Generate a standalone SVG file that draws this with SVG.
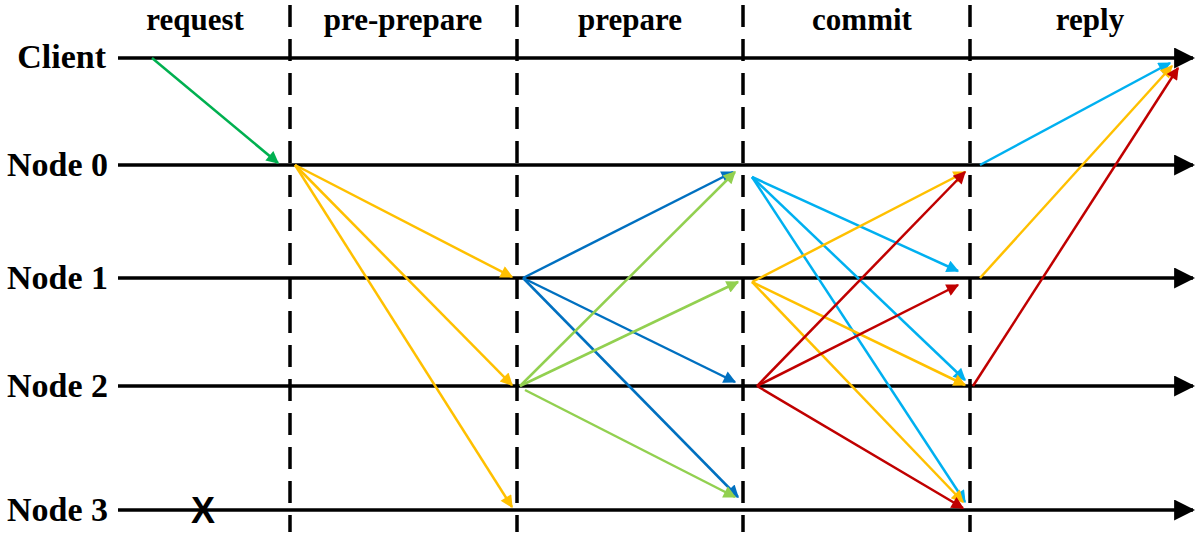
<svg xmlns="http://www.w3.org/2000/svg" width="1200" height="537" viewBox="0 0 1200 537">
<style>
.t{font-family:"Liberation Serif",serif;font-weight:bold;font-size:34px;fill:#000}
.h{font-size:31px}
.tl{stroke:#000;stroke-width:3.5;fill:none}
.d{stroke:#000;stroke-width:3.5;stroke-dasharray:22,12;fill:none}
.a{stroke-width:2.5;fill:none}
</style>
<defs>
<marker id="mk" viewBox="0 0 10 10" refX="9" refY="5" markerWidth="6" markerHeight="6" orient="auto"><path d="M0,0L10,5L0,10z" fill="#000"/></marker>
<marker id="mg" viewBox="0 0 10 10" refX="9" refY="5" markerWidth="6" markerHeight="5" orient="auto"><path d="M0,0L10,5L0,10z" fill="#00b050"/></marker>
<marker id="my" viewBox="0 0 10 10" refX="9" refY="5" markerWidth="6" markerHeight="5" orient="auto"><path d="M0,0L10,5L0,10z" fill="#ffc000"/></marker>
<marker id="mb" viewBox="0 0 10 10" refX="9" refY="5" markerWidth="6" markerHeight="5" orient="auto"><path d="M0,0L10,5L0,10z" fill="#0070c0"/></marker>
<marker id="ml" viewBox="0 0 10 10" refX="9" refY="5" markerWidth="6" markerHeight="5" orient="auto"><path d="M0,0L10,5L0,10z" fill="#92d050"/></marker>
<marker id="mc" viewBox="0 0 10 10" refX="9" refY="5" markerWidth="6" markerHeight="5" orient="auto"><path d="M0,0L10,5L0,10z" fill="#00b0f0"/></marker>
<marker id="mr" viewBox="0 0 10 10" refX="9" refY="5" markerWidth="6" markerHeight="5" orient="auto"><path d="M0,0L10,5L0,10z" fill="#c00000"/></marker>
</defs>
<rect width="1200" height="537" fill="#fff"/>
<g id="headers">
<text class="t h" x="195" y="30" text-anchor="middle">request</text>
<text class="t h" x="403" y="30" text-anchor="middle">pre-prepare</text>
<text class="t h" x="630" y="30" text-anchor="middle">prepare</text>
<text class="t h" x="862" y="30" text-anchor="middle">commit</text>
<text class="t h" x="1090" y="30" text-anchor="middle">reply</text>
</g>
<g id="phases">
<line class="d" x1="290" y1="5" x2="290" y2="532"/>
<line class="d" x1="517" y1="5" x2="517" y2="532"/>
<line class="d" x1="743" y1="5" x2="743" y2="532"/>
<line class="d" x1="970" y1="5" x2="970" y2="532"/>
</g>
<g id="client"><text class="t" x="106" y="68" text-anchor="end">Client</text><line class="tl" x1="118" y1="58" x2="1193" y2="58" marker-end="url(#mk)"/></g>
<g id="node0"><text class="t" x="108" y="176" text-anchor="end">Node 0</text><line class="tl" x1="118" y1="165" x2="1193" y2="165" marker-end="url(#mk)"/></g>
<g id="node1"><text class="t" x="108" y="289" text-anchor="end">Node 1</text><line class="tl" x1="118" y1="278" x2="1193" y2="278" marker-end="url(#mk)"/></g>
<g id="node2"><text class="t" x="108" y="397" text-anchor="end">Node 2</text><line class="tl" x1="118" y1="386" x2="1193" y2="386" marker-end="url(#mk)"/></g>
<g id="node3"><text class="t" x="108" y="521" text-anchor="end">Node 3</text><line class="tl" x1="118" y1="510" x2="1193" y2="510" marker-end="url(#mk)"/>
<text x="203" y="523" text-anchor="middle" style="font-family:'Liberation Sans',sans-serif;font-weight:bold;font-size:36px">X</text></g>
<g id="connectors">
<line class="a" stroke="#00b050" x1="152" y1="58" x2="278" y2="163" marker-end="url(#mg)"/>
<g stroke="#ffc000">
<line class="a" x1="295" y1="165" x2="512" y2="277" marker-end="url(#my)"/>
<line class="a" x1="295" y1="165" x2="512" y2="385" marker-end="url(#my)"/>
<line class="a" x1="295" y1="165" x2="512" y2="507" marker-end="url(#my)"/>
</g>
<g stroke="#0070c0">
<line class="a" x1="523" y1="278" x2="733" y2="172" marker-end="url(#mb)"/>
<line class="a" x1="523" y1="278" x2="735" y2="382" marker-end="url(#mb)"/>
<line class="a" x1="523" y1="278" x2="738" y2="497" marker-end="url(#mb)"/>
</g>
<g stroke="#92d050">
<line class="a" x1="520" y1="386" x2="735" y2="172" marker-end="url(#ml)"/>
<line class="a" x1="520" y1="386" x2="738" y2="282" marker-end="url(#ml)"/>
<line class="a" x1="525" y1="390" x2="735" y2="497" marker-end="url(#ml)"/>
</g>
<g stroke="#00b0f0">
<line class="a" x1="752" y1="177" x2="958" y2="271" marker-end="url(#mc)"/>
<line class="a" x1="752" y1="177" x2="965" y2="380" marker-end="url(#mc)"/>
<line class="a" x1="752" y1="177" x2="965" y2="502" marker-end="url(#mc)"/>
<line class="a" x1="980" y1="165" x2="1170" y2="63" marker-end="url(#mc)"/>
</g>
<g stroke="#ffc000">
<line class="a" x1="752" y1="282" x2="965" y2="172" marker-end="url(#my)"/>
<line class="a" x1="752" y1="282" x2="965" y2="385" marker-end="url(#my)"/>
<line class="a" x1="752" y1="282" x2="963" y2="502" marker-end="url(#my)"/>
<line class="a" x1="980" y1="278" x2="1172" y2="66" marker-end="url(#my)"/>
</g>
<g stroke="#c00000">
<line class="a" x1="757" y1="386" x2="965" y2="172" marker-end="url(#mr)"/>
<line class="a" x1="757" y1="386" x2="958" y2="285" marker-end="url(#mr)"/>
<line class="a" x1="757" y1="386" x2="963" y2="508" marker-end="url(#mr)"/>
<line class="a" x1="973" y1="386" x2="1178" y2="68" marker-end="url(#mr)"/>
</g>
</g>
</svg>
